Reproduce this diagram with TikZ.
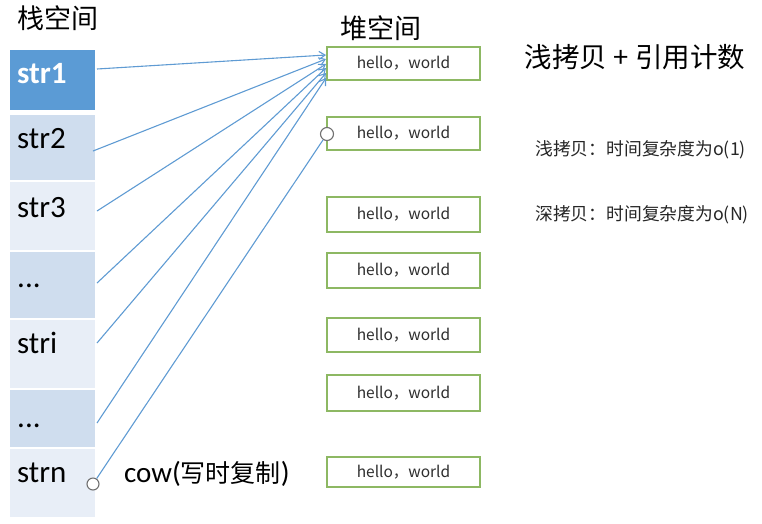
\documentclass[tikz,border=0pt]{standalone}
\usepackage{fontspec}
\setmainfont{Carlito}
\newfontfamily\cjk{Noto Sans CJK SC}
\usetikzlibrary{arrows.meta}
\definecolor{celldark}{HTML}{5B9BD5}
\definecolor{cellA}{HTML}{CFDDEE}
\definecolor{cellB}{HTML}{E8EEF7}
\definecolor{arrowblue}{HTML}{5F9BD3}
\definecolor{heapgreen}{HTML}{8DB863}
\definecolor{heaptext}{HTML}{2E2E2E}
\definecolor{ringgrey}{HTML}{707070}
\tikzset{
  cell/.style={rectangle, inner sep=0pt, minimum width=85pt, draw=none},
  celltext/.style={anchor=base west, inner sep=0pt, font=\fontsize{31}{32}\selectfont},
  heapbox/.style={rectangle, draw=heapgreen, line width=1.4pt, fill=white, minimum width=153pt, inner sep=0pt, text=heaptext, font=\cjk\fontsize{15.5}{16}\selectfont},
  link/.style={draw=arrowblue, line width=1.1pt},
  ptr/.style={link, -{Straight Barb[length=6pt,width=8pt,line width=1.1pt]}},
  ring/.style={circle, draw=ringgrey, fill=white, line width=1.1pt, inner sep=0pt},
  title/.style={anchor=west, inner sep=0pt, font=\cjk\fontsize{27}{28}\selectfont},
  note/.style={anchor=west, inner sep=0pt, text=black!85, font=\cjk\fontsize{17.8}{19}\selectfont}
}
\begin{document}
\begin{tikzpicture}[x=1pt, y=-1pt]
\useasboundingbox (0,0) rectangle (762,523);
% titles
\node[title] (stacktitle) at (17,18) {栈空间};
\node[title] (heaptitle) at (340,28) {堆空间};
% stack cells
\node[cell, fill=celldark, minimum height=60pt] (s1) at (52.5,80) {};
\node[cell, fill=cellA, minimum height=65pt] (s2) at (52.5,147.5) {};
\node[cell, fill=cellB, minimum height=68pt] (s3) at (52.5,216) {};
\node[cell, fill=cellA, minimum height=66pt] (s4) at (52.5,285) {};
\node[cell, fill=cellB, minimum height=68pt] (s5) at (52.5,354) {};
\node[cell, fill=cellA, minimum height=57pt] (s6) at (52.5,418.5) {};
\node[cell, fill=cellB, minimum height=68pt] (s7) at (52.5,483) {};
% stack texts
\node[celltext, text=white, font=\bfseries\fontsize{31}{32}\selectfont] (t1) at (17,83) {str1};
\node[celltext] (t2) at (17,148) {str2};
\node[celltext] (t3) at (17,217) {str3};
\node[celltext] (t4) at (17,287) {...};
\node[celltext] (t5) at (17,353) {stri};
\node[celltext] (t6) at (17,427) {...};
\node[celltext] (t7) at (17,482) {strn};
% heap boxes
\node[heapbox, minimum height=33pt] (h1) at (403.5,63.5) {hello，world};
\node[heapbox, minimum height=33pt] (h2) at (403.5,133.5) {hello，world};
\node[heapbox, minimum height=35pt] (h3) at (403.5,214.5) {hello，world};
\node[heapbox, minimum height=35pt] (h4) at (403.5,270.5) {hello，world};
\node[heapbox, minimum height=34pt] (h5) at (403.5,335) {hello，world};
\node[heapbox, minimum height=36pt] (h6) at (403.5,393) {hello，world};
\node[heapbox, minimum height=30pt] (h7) at (403.5,472) {hello，world};
% pointer start and end points
\coordinate (a1) at (97,69);
\coordinate (a2) at (93,151);
\coordinate (a3) at (97,211);
\coordinate (a4) at (97,283);
\coordinate (a5) at (97,343);
\coordinate (a6) at (97,423);
\coordinate (e1) at (326,55);
\coordinate (e2) at (326,59);
\coordinate (e3) at (326,64);
\coordinate (e4) at (326,68);
\coordinate (e5) at (326,73);
\coordinate (e6) at (326,78);
\draw[ptr] (a1) -- (e1);
\draw[ptr] (a2) -- (e2);
\draw[ptr] (a3) -- (e3);
\draw[ptr] (a4) -- (e4);
\draw[ptr] (a5) -- (e5);
\draw[ptr] (a6) -- (e6);
% copy-on-write link
\node[ring, minimum size=12pt] (rs) at (93,484) {};
\node[ring, minimum size=13pt] (rh) at (327,134) {};
\draw[link] (rs) -- (rh);
% labels
\node[anchor=west, inner sep=0pt] (cow) at (124,474) {\fontsize{29}{30}\selectfont cow(\cjk\fontsize{25}{26}\selectfont 写时复制\fontsize{29}{30}\selectfont\rmfamily)};
\node[anchor=center, inner sep=0pt, font=\cjk\fontsize{27.5}{29}\selectfont] (head) at (635,57) {浅拷贝 + 引用计数};
\node[note] (n1) at (535,150) {浅拷贝：时间复杂度为o(1)};
\node[note] (n2) at (535,215) {深拷贝：时间复杂度为o(N)};
\end{tikzpicture}
\end{document}
